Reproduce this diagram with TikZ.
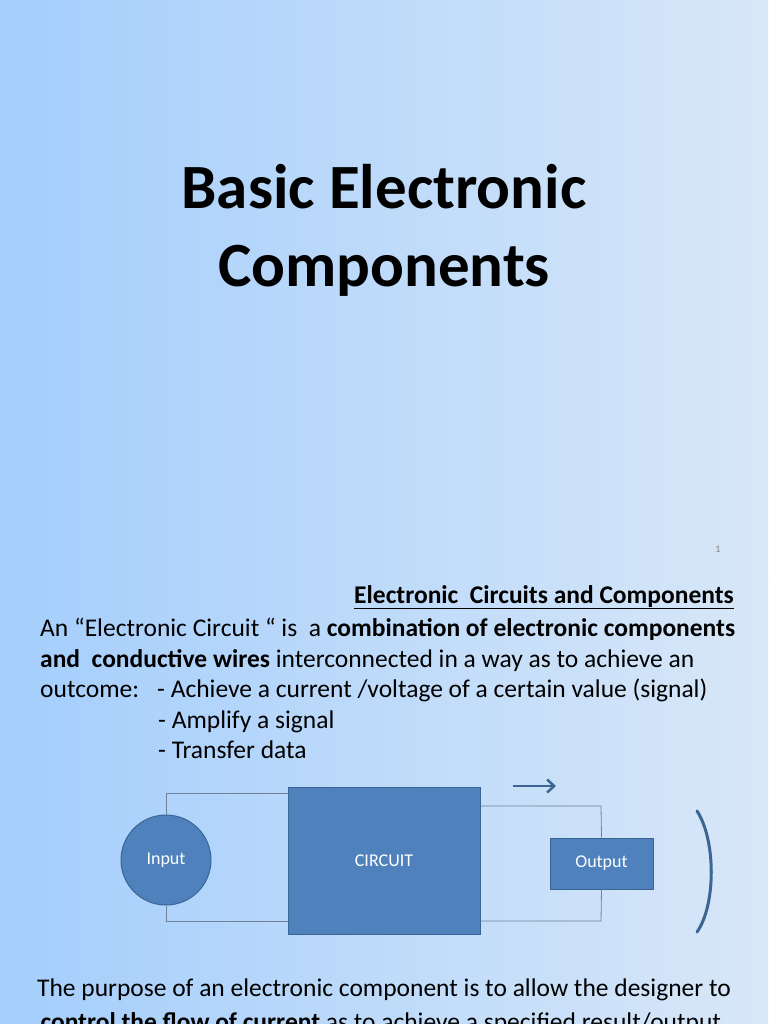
\documentclass[tikz,border=0pt]{standalone}
\usepackage{fontspec}
\setmainfont{Carlito}
\usetikzlibrary{arrows.meta}
\definecolor{bfill}{HTML}{4F81BD}
\definecolor{bdraw}{HTML}{3A6594}
\definecolor{wire}{HTML}{6E8298}
\definecolor{bgl}{HTML}{A4CEFC}
\definecolor{bgr}{HTML}{D8E7F8}
\begin{document}
\begin{tikzpicture}[x=1pt,y=-1pt,
  blk/.style={fill=bfill,draw=bdraw,line width=1pt,text=white,font=\fontsize{18}{20}\selectfont},
  wr/.style={draw=wire,line width=0.8pt},
  body/.style={anchor=base west,inner sep=0pt,font=\fontsize{25.5}{30}\selectfont}]
\useasboundingbox (0,0) rectangle (768,1024);
\shade[left color=bgl,right color=bgr] (0,0) rectangle (768,577);
\shade[left color=bgl,right color=bgr] (0,577) rectangle (768,1024);
\node[font=\bfseries\fontsize{63}{78}\selectfont,align=center] (title) at (384,230) {Basic Electronic\\Components};
\node[font=\fontsize{10}{12}\selectfont,text=gray] (pg) at (718,549) {1};
\node[anchor=base east,inner sep=0pt,font=\bfseries\fontsize{25.5}{28}\selectfont] (head) at (734,603) {\underline{Electronic\ \ Circuits and Components}};
\node[body] (l1) at (40,636) {An “Electronic Circuit “ is\ \ a \textbf{combination of electronic components}};
\node[body] (l2) at (40,667) {\textbf{and\ \ conductive wires} interconnected in a way as to achieve an};
\node[body] (l3a) at (40,697) {outcome:};
\node[body] (l3) at (157,697) {- Achieve a current /voltage of a certain value (signal)};
\node[body] (l4) at (158,728) {- Amplify a signal};
\node[body] (l5) at (158,758) {- Transfer data};
\node[circle,blk,minimum size=90pt,inner sep=0pt] (in) at (166,860) {Input};
\node[blk,minimum width=192pt,minimum height=147pt,inner sep=0pt] (ck) at (384,860.5) {CIRCUIT};
\node[blk,minimum width=103pt,minimum height=51pt,inner sep=0pt] (out) at (601.5,863.5) {Output};
\coordinate (c1) at (166,793); \coordinate (c2) at (166,921);
\coordinate (c3) at (601,806); \coordinate (c4) at (601,921);
\draw[wr] (in.north) -- (c1) -- (c1 -| ck.west);
\draw[wr] (in.south) -- (c2) -- (c2 -| ck.west);
\draw[wr] (c3 -| ck.east) -- (c3) -- (out.north);
\draw[wr] (out.south) -- (c4) -- (c4 -| ck.east);
\coordinate (a1) at (513,786); \coordinate (a2) at (556,786);
\draw[bdraw,line width=2.5pt,-{Straight Barb[length=7pt,width=13pt]}] (a1) -- (a2);
\coordinate (p1) at (697,811); \coordinate (p2) at (697,932);
\draw[bdraw,line width=3pt,line cap=round] (p1) .. controls (716,840) and (716,905) .. (p2);
\node[font=\fontsize{25.5}{30}\selectfont,inner sep=0pt,anchor=base] (b1) at (384,996) {The purpose of an electronic component is to allow the designer to};
\node[font=\fontsize{25.5}{30}\selectfont,inner sep=0pt,anchor=base] (b2) at (384,1030) {\textbf{control the flow of current} as to achieve a specified result/output.};
\end{tikzpicture}
\end{document}
